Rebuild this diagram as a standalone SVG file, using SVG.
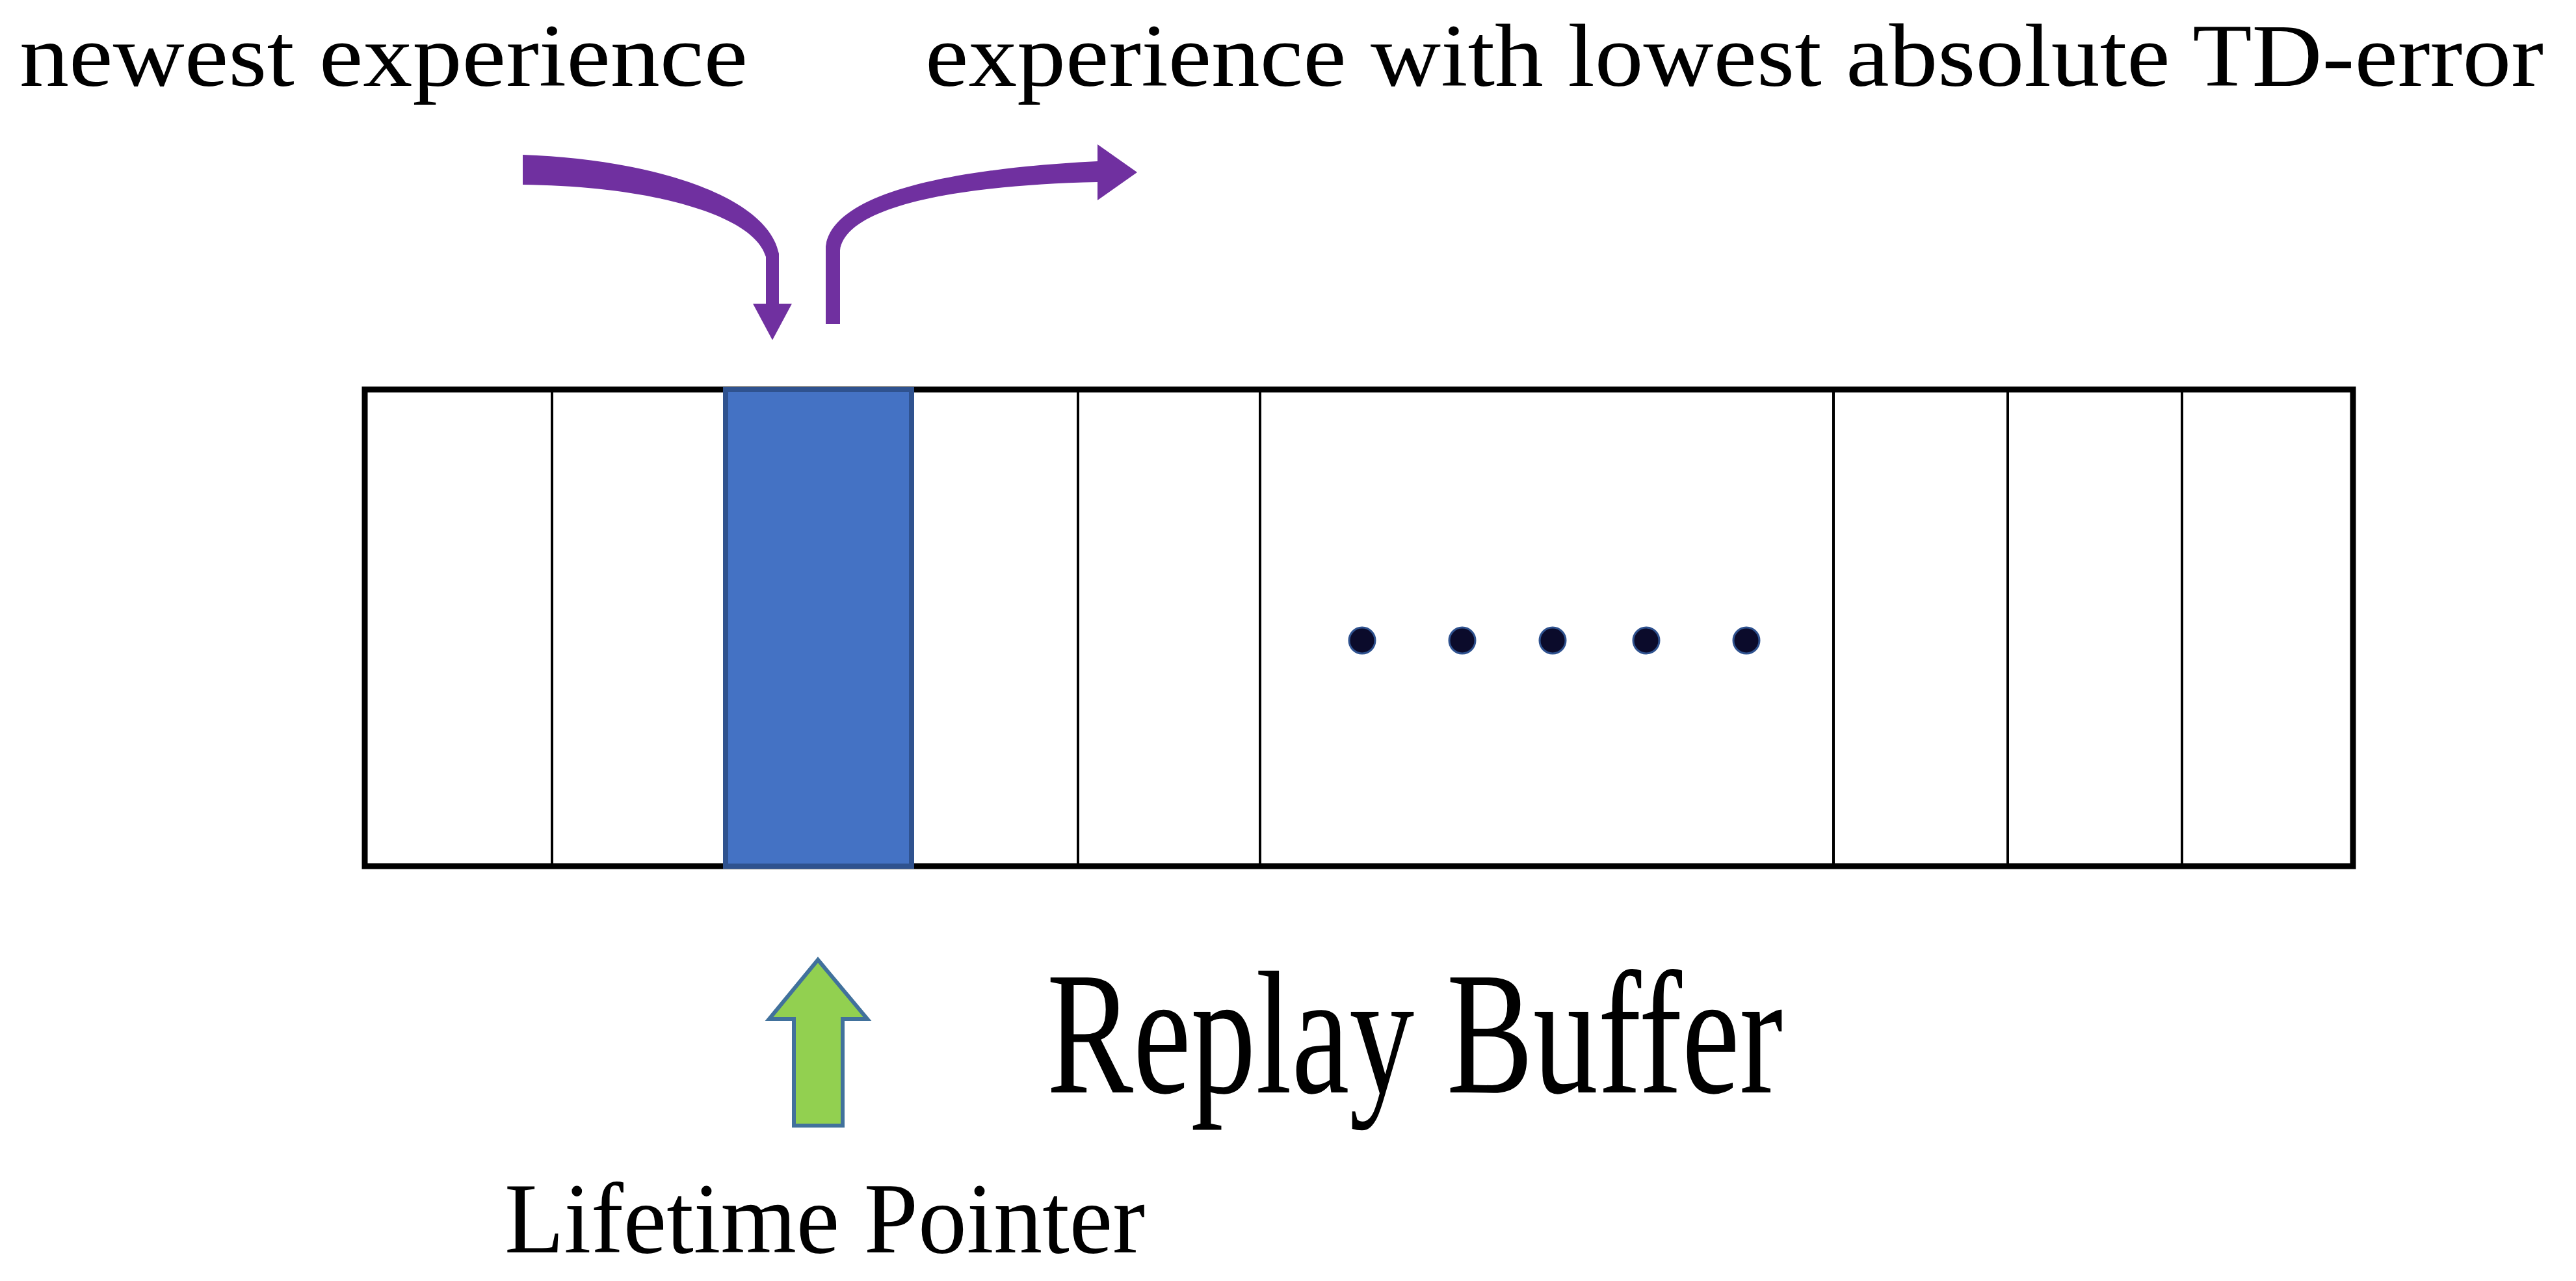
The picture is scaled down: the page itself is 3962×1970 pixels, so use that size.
<svg xmlns="http://www.w3.org/2000/svg" width="3962" height="1970" viewBox="0 0 3962 1970">
<style>
.t{font-family:"Liberation Serif","Times New Roman",serif;fill:#000}
.cell{stroke:#000;stroke-width:4}
.purple{fill:#7030A0}
</style>
<rect width="3962" height="1970" fill="#fff"/>
<text class="t" x="30" y="132" font-size="138" textLength="1120" lengthAdjust="spacingAndGlyphs">newest experience</text>
<text class="t" x="1423" y="132" font-size="138" textLength="2489" lengthAdjust="spacingAndGlyphs">experience with lowest absolute TD-error</text>
<g id="connectors">
<path class="purple" d="M804,238 C1000,245 1180,300 1198,390 L1198,467 L1218,467 L1188,523 L1158,467 L1178,467 L1178,395 C1160,330 1000,286 804,284 Z"/>
<path class="purple" d="M1270,498 L1270,379 C1280,300 1450,260 1688,248 L1688,222 L1749,265 L1688,308 L1688,280 C1460,285 1300,320 1292,385 L1292,498 Z"/>
</g>
<g id="buffer">
<rect x="561" y="599" width="3058" height="733" fill="#fff" stroke="#000" stroke-width="9"/>
<line class="cell" x1="849" y1="599" x2="849" y2="1332"/>
<line class="cell" x1="1658" y1="599" x2="1658" y2="1332"/>
<line class="cell" x1="1938" y1="599" x2="1938" y2="1332"/>
<line class="cell" x1="2820" y1="599" x2="2820" y2="1332"/>
<line class="cell" x1="3088" y1="599" x2="3088" y2="1332"/>
<line class="cell" x1="3356" y1="599" x2="3356" y2="1332"/>
<rect x="1116" y="599" width="286" height="733" fill="#4472C4" stroke="#2F528F" stroke-width="8"/>
<g fill="#0b0b2b" stroke="#2F528F" stroke-width="3">
<circle cx="2095" cy="985" r="20"/><circle cx="2249" cy="985" r="20"/><circle cx="2388" cy="985" r="20"/><circle cx="2532" cy="985" r="20"/><circle cx="2686" cy="985" r="20"/>
</g>
</g>
<text class="t" x="1610" y="1680" font-size="270" textLength="1132" lengthAdjust="spacingAndGlyphs">Replay Buffer</text>
<g id="pointer">
<path d="M1258,1476 L1334,1567 L1296,1567 L1296,1731 L1221,1731 L1221,1567 L1183,1567 Z" fill="#92D050" stroke="#41719C" stroke-width="6"/>
</g>
<text class="t" x="776" y="1926" font-size="155" textLength="985" lengthAdjust="spacingAndGlyphs">Lifetime Pointer</text>
</svg>
